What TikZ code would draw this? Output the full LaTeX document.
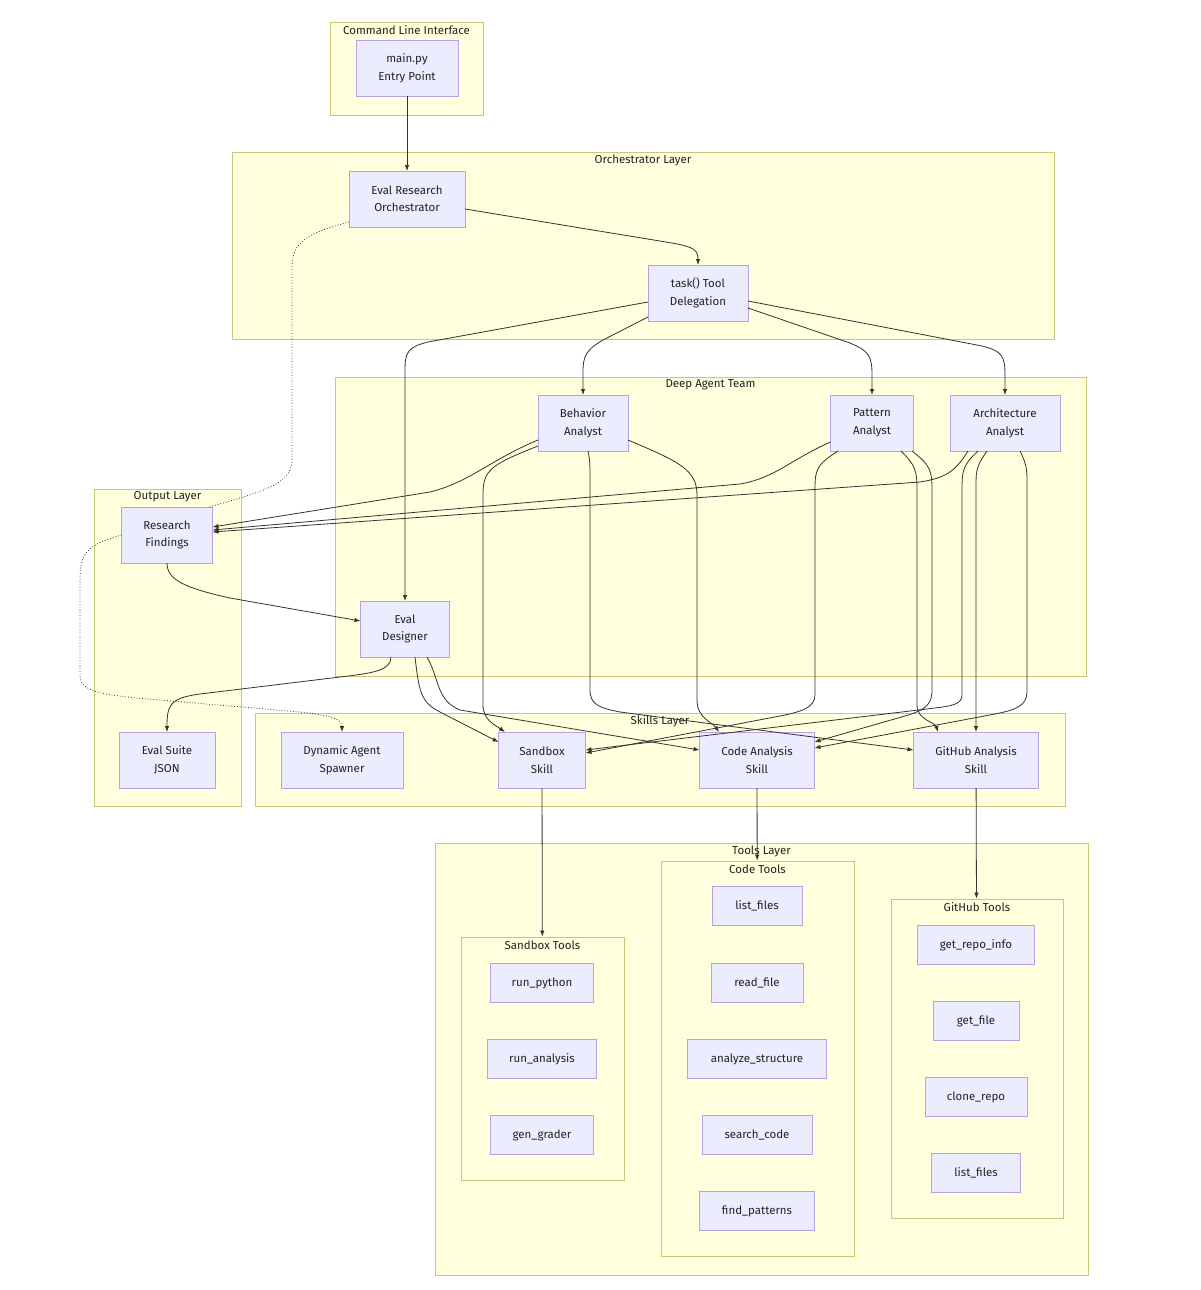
\documentclass[tikz,border=0pt]{standalone}
\usepackage{fontspec}
\setmainfont{Fira Sans}
\usepackage{xcolor}
\usepackage{tkz-graph}
\usetikzlibrary{arrows.meta}

\begin{document}
\begin{tikzpicture}[x=1pt,y=-1pt]
    % 定义颜色
    \definecolor{layerfill}{HTML}{FFFFDE}
    \definecolor{layerdraw}{HTML}{C8C878}
    \definecolor{nodefill}{HTML}{ECECFF}
    \definecolor{nodedraw}{HTML}{B7A2E8}
    \definecolor{edgecol}{HTML}{333333}
    \definecolor{textcol}{HTML}{222222}
    % 画布大小 (像素坐标, y 向下)
    \fill[white] (0,0) rectangle (1200,1290);
    \useasboundingbox (0,0) rectangle (1200,1290);
    % --- 设置全局样式 ---
    \GraphInit[vstyle=Normal] % 初始化图风格

    % 重定义 VertexStyle (节点样式)
    \tikzset{VertexStyle/.style = {
        shape=rectangle,        % 形状：矩形
        draw=nodedraw,          % 边框颜色
        fill=nodefill,          % 填充颜色
        line width=0.9pt,       % 边框粗细
        inner sep=2pt,          % 内部文字边距
        minimum height=56pt,    % 最小高度
        align=center,           % 文字居中
        text=textcol,
        font=\fontsize{11.5}{17.5}\selectfont
    }}

    % 重定义 EdgeStyle (连线样式)
    \tikzset{EdgeStyle/.style = {
        ->,                     % 箭头
        >={Latex[length=6pt,width=4.5pt]}, % 箭头形状
        line width=0.8pt,       % 线条粗细
        color=edgecol           % 线条颜色
    }}

    % 分层框样式
    \tikzset{LayerStyle/.style = {
        draw=layerdraw,
        fill=layerfill,
        line width=0.9pt
    }}
    \tikzset{LayerLabel/.style = {
        text=textcol,
        inner sep=0pt,
        font=\fontsize{11.5}{13}\selectfont
    }}

    % --- 定义分层 (Subgraphs) ---
    \node[LayerStyle, minimum width=153pt, minimum height=93pt] (cli) at (406.5,68.5) {};
    \node[LayerLabel] at ([yshift=-8.5pt]cli.north) {Command Line Interface};
    \node[LayerStyle, minimum width=822pt, minimum height=187pt] (orchlayer) at (643,245.5) {};
    \node[LayerLabel] at ([yshift=-8.5pt]orchlayer.north) {Orchestrator Layer};
    \node[LayerStyle, minimum width=751pt, minimum height=299pt] (team) at (710.5,526.5) {};
    \node[LayerLabel] at ([yshift=-8.5pt]team.north) {Deep Agent Team};
    \node[LayerStyle, minimum width=147pt, minimum height=317pt] (output) at (167.5,647.5) {};
    \node[LayerLabel] at ([yshift=-8.5pt]output.north) {Output Layer};
    \node[LayerStyle, minimum width=810pt, minimum height=93pt] (skills) at (660,759.5) {};
    \node[LayerLabel] at ([yshift=-8.5pt]skills.north) {Skills Layer};
    \node[LayerStyle, minimum width=653pt, minimum height=432pt] (tools) at (761.5,1059) {};
    \node[LayerLabel] at ([yshift=-8.5pt]tools.north) {Tools Layer};
    \node[LayerStyle, minimum width=163pt, minimum height=243pt] (sandboxtools) at (542.5,1058.5) {};
    \node[LayerLabel] at ([yshift=-8.5pt]sandboxtools.north) {Sandbox Tools};
    \node[LayerStyle, minimum width=193pt, minimum height=395pt] (codetools) at (757.5,1058.5) {};
    \node[LayerLabel] at ([yshift=-8.5pt]codetools.north) {Code Tools};
    \node[LayerStyle, minimum width=172pt, minimum height=319pt] (githubtools) at (977,1058.5) {};
    \node[LayerLabel] at ([yshift=-8.5pt]githubtools.north) {GitHub Tools};

    % --- 定义节点 (Vertices) ---
    % 使用绝对坐标 (x, y) 定位

    % 入口与编排
    \Vertex[x=407, y=68,  L={main.py\\Entry Point}, style={minimum width=102pt}]{main}
    \Vertex[x=407, y=199, L={Eval Research\\Orchestrator}, style={minimum width=116pt}]{orch}
    \Vertex[x=698, y=293, L={task() Tool\\Delegation}, style={minimum width=100pt}]{task}

    % 代理团队
    \Vertex[x=583,  y=423, L={Behavior\\Analyst}, style={minimum width=90pt}]{behav}
    \Vertex[x=872,  y=423, L={Pattern\\Analyst}, style={minimum width=83pt}]{pattern}
    \Vertex[x=1005, y=423, L={Architecture\\Analyst}, style={minimum width=110pt}]{arch}
    \Vertex[x=405,  y=629, L={Eval\\Designer}, style={minimum width=89pt}]{designer}

    % 输出层
    \Vertex[x=167, y=535, L={Research\\Findings}, style={minimum width=91pt}]{findings}
    \Vertex[x=167, y=760, L={Eval Suite\\JSON}, style={minimum width=96pt}]{evalsuite}

    % 技能层
    \Vertex[x=342, y=760, L={Dynamic Agent\\Spawner}, style={minimum width=122pt}]{spawner}
    \Vertex[x=542, y=760, L={Sandbox\\Skill}, style={minimum width=87pt}]{sandbox}
    \Vertex[x=757, y=760, L={Code Analysis\\Skill}, style={minimum width=115pt}]{code}
    \Vertex[x=976, y=760, L={GitHub Analysis\\Skill}, style={minimum width=125pt}]{github}

    % 工具节点 (单行, 矮一些)
    \tikzset{VertexStyle/.append style={minimum height=39pt}}
    \Vertex[x=542, y=983,  L={run\_python}, style={minimum width=103pt}]{runpy}
    \Vertex[x=542, y=1059, L={run\_analysis}, style={minimum width=109pt}]{runana}
    \Vertex[x=542, y=1135, L={gen\_grader}, style={minimum width=103pt}]{gengrader}
    \Vertex[x=757, y=906,  L={list\_files}, style={minimum width=90pt}]{listfiles}
    \Vertex[x=757, y=983,  L={read\_file}, style={minimum width=92pt}]{readfile}
    \Vertex[x=757, y=1059, L={analyze\_structure}, style={minimum width=139pt}]{analyze}
    \Vertex[x=757, y=1135, L={search\_code}, style={minimum width=110pt}]{search}
    \Vertex[x=757, y=1211, L={find\_patterns}, style={minimum width=115pt}]{findpat}
    \Vertex[x=976, y=945,  L={get\_repo\_info}, style={minimum width=117pt}]{repoinfo}
    \Vertex[x=976, y=1021, L={get\_file}, style={minimum width=86pt}]{getfile}
    \Vertex[x=976, y=1097, L={clone\_repo}, style={minimum width=102pt}]{clone}
    \Vertex[x=976, y=1173, L={list\_files}, style={minimum width=89pt}]{ghlist}

    % --- 定义连线 (Edges) ---
    \Edge(main)(orch) % main.py -> Orchestrator
    \draw[EdgeStyle] ([yshift=-10pt]orch.east) -- (672,243) .. controls (694,247) and (698,250) .. (task.north);
    \draw[EdgeStyle, -, dotted] ([yshift=-23pt]orch.west) .. controls (300,235) and (292,245) .. (292,270)
        -- (292,460) .. controls (292,485) and (260,492) .. ([xshift=-3pt]findings.north east);

    % task() 分派
    \draw[EdgeStyle] ([yshift=-9pt]task.west) -- (428,342) .. controls (408,347) and (405,352) .. (405,370) -- (designer.north);
    \draw[EdgeStyle] ([yshift=-24pt]task.west) -- (603,340) .. controls (586,350) and (583,356) .. (583,372) -- (behav.north);
    \draw[EdgeStyle] ([yshift=-15pt]task.east) -- (850,343) .. controls (869,351) and (872,356) .. (872,375) -- (pattern.north);
    \draw[EdgeStyle] ([yshift=-8pt]task.east) -- (982,346) .. controls (1002,351) and (1005,356) .. (1005,375) -- (arch.north);

    % 分析结果 -> Research Findings
    \draw[EdgeStyle] ([yshift=-17pt]behav.west) .. controls (490,460) and (470,482) .. (430,492) -- ([yshift=8pt]findings.east);
    \draw[EdgeStyle] ([yshift=-19pt]pattern.west) .. controls (790,460) and (775,478) .. (740,484) -- ([yshift=5pt]findings.east);
    \draw[EdgeStyle] ([xshift=-37pt]arch.south) .. controls (955,472) and (945,478) .. (920,482) -- ([yshift=3pt]findings.east);

    % 分析师 -> 技能
    \draw[EdgeStyle] ([yshift=-23pt]behav.west) .. controls (490,465) and (483,470) .. (483,495)
        -- (483,705) .. controls (483,720) and (495,725) .. ([xshift=-37pt]sandbox.north);
    \draw[EdgeStyle] ([xshift=5pt]behav.south) .. controls (590,460) and (590,465) .. (590,480)
        -- (590,690) .. controls (590,705) and (600,708) .. (620,712) -- ([yshift=10pt]github.west);
    \draw[EdgeStyle] ([yshift=-17pt]behav.east) .. controls (680,462) and (697,470) .. (697,495)
        -- (697,700) .. controls (697,718) and (712,722) .. ([xshift=-38pt]code.north);
    \draw[EdgeStyle] ([xshift=-34pt]pattern.south) .. controls (816,465) and (815,470) .. (815,490)
        -- (815,695) .. controls (815,708) and (800,712) .. (780,716) -- ([yshift=7pt]sandbox.east);
    \draw[EdgeStyle] ([xshift=29pt]pattern.south) .. controls (915,465) and (917,470) .. (917,490)
        -- (917,705) .. controls (917,720) and (935,722) .. ([xshift=-38pt]github.north);
    \draw[EdgeStyle] ([xshift=40pt]pattern.south) .. controls (930,465) and (932,470) .. (932,490)
        -- (932,690) .. controls (932,705) and (925,710) .. (905,716) -- ([yshift=18pt]code.east);
    \draw[EdgeStyle] ([xshift=-27pt]arch.south) .. controls (963,465) and (962,470) .. (962,490)
        -- (962,695) .. controls (962,705) and (950,706) .. (935,708) -- ([yshift=10pt]sandbox.east);
    \draw[EdgeStyle] ([xshift=-18pt]arch.south) .. controls (977,465) and (976,470) .. (976,485) -- (github.north);
    \draw[EdgeStyle] ([xshift=15pt]arch.south) .. controls (1027,465) and (1027,470) .. (1027,485)
        -- (1027,692) .. controls (1027,706) and (1015,710) .. (995,714) -- ([yshift=12pt]code.east);

    % Findings -> Designer -> 输出
    \draw[EdgeStyle] (findings.south) .. controls (167,580) and (185,588) .. (230,598) -- ([yshift=8pt]designer.west);
    \draw[EdgeStyle, dotted] (findings.west) .. controls (85,545) and (80,555) .. (80,580)
        -- (80,675) .. controls (80,692) and (100,695) .. (160,700) -- (300,712) .. controls (335,716) and (342,720) .. (spawner.north);
    \draw[EdgeStyle] ([xshift=-14pt]designer.south) .. controls (391,670) and (375,673) .. (340,677)
        -- (200,694) .. controls (170,698) and (167,705) .. (evalsuite.north);
    \draw[EdgeStyle] ([xshift=10pt]designer.south) .. controls (419,690) and (420,702) .. (440,712) -- ([yshift=18pt]sandbox.west);
    \draw[EdgeStyle] ([xshift=22pt]designer.south) .. controls (440,680) and (436,700) .. (460,710) -- ([yshift=10pt]code.west);

    % 技能 -> 工具
    \Edge(sandbox)(sandboxtools)
    \Edge(code)(codetools)
    \Edge(github)(githubtools)

\end{tikzpicture}
\end{document}
